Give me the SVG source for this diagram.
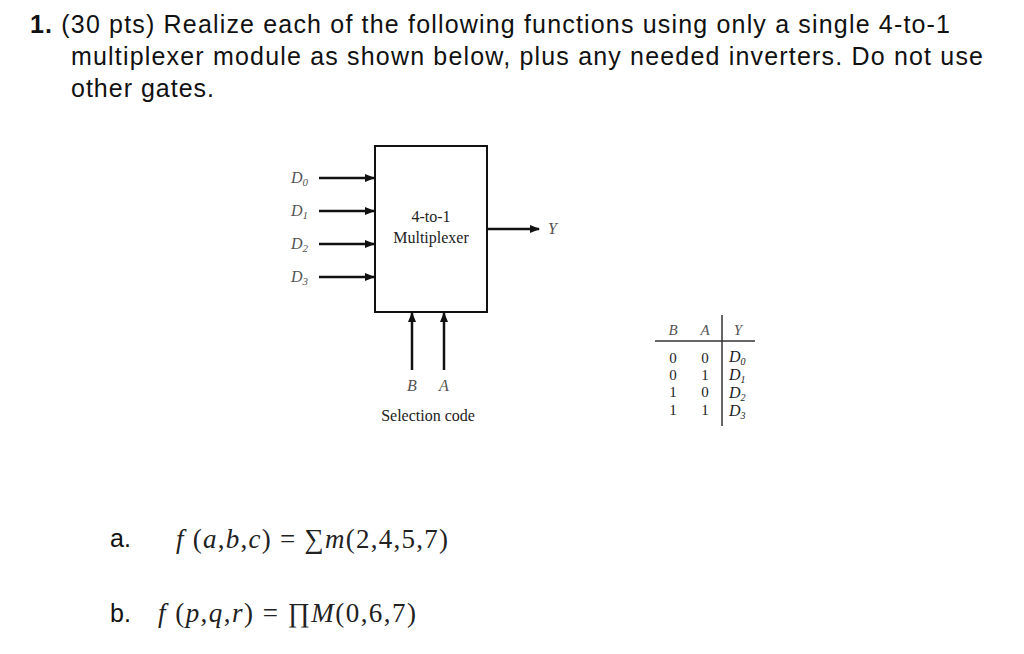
<svg xmlns="http://www.w3.org/2000/svg" width="1024" height="654" viewBox="0 0 1024 654">
<defs><marker id="ah" markerWidth="10" markerHeight="8" refX="9" refY="4" orient="auto" markerUnits="userSpaceOnUse"><path d="M0,0 L10,4 L0,8 z" fill="#111"/></marker></defs>
<style>
.h{font-family:"Liberation Sans",Arial,sans-serif;font-size:25px;fill:#111}
.s{font-family:"Liberation Serif","Times New Roman",serif;fill:#222}
.i{font-style:italic;fill:#555}
.w{stroke:#111;stroke-width:2.5;marker-end:url(#ah)}
</style>
<rect width="1024" height="654" fill="#fff"/>
<text class="h" x="30" y="33" textLength="920" lengthAdjust="spacing"><tspan font-weight="bold">1.</tspan>  (30 pts) Realize each of the following functions using only a single 4-to-1</text>
<text class="h" x="71" y="65" textLength="912" lengthAdjust="spacing">multiplexer module as shown below, plus any needed inverters.  Do not use</text>
<text class="h" x="71" y="97" textLength="143" lengthAdjust="spacing">other gates.</text>
<g id="mux"><rect x="375" y="146" width="112" height="166" fill="none" stroke="#111" stroke-width="2"/>
<text class="s" x="431" y="222" font-size="16" text-anchor="middle">4-to-1</text>
<text class="s" x="431" y="243" font-size="16" text-anchor="middle">Multiplexer</text></g>
<g id="labels" font-size="16">
<text class="s i" x="291" y="183">D<tspan font-size="11" dy="3">0</tspan></text>
<text class="s i" x="291" y="216">D<tspan font-size="11" dy="3">1</tspan></text>
<text class="s i" x="291" y="249">D<tspan font-size="11" dy="3">2</tspan></text>
<text class="s i" x="291" y="282">D<tspan font-size="11" dy="3">3</tspan></text>
<text class="s i" x="548" y="234">Y</text>
<text class="s i" x="407" y="391">B</text>
<text class="s i" x="439" y="391">A</text>
<text class="s" x="428" y="421" font-size="16" text-anchor="middle">Selection code</text></g>
<g id="connectors">
<line class="w" x1="319" y1="178" x2="374" y2="178"/>
<line class="w" x1="319" y1="211" x2="374" y2="211"/>
<line class="w" x1="319" y1="244" x2="374" y2="244"/>
<line class="w" x1="319" y1="277" x2="374" y2="277"/>
<line class="w" x1="488" y1="229" x2="539" y2="229"/>
<line class="w" x1="412" y1="370" x2="412" y2="313"/>
<line class="w" x1="444" y1="370" x2="444" y2="313"/>
</g>
<g id="table" font-size="15">
<line x1="655" y1="341" x2="755" y2="341" stroke="#333" stroke-width="1.5"/>
<line x1="722" y1="315" x2="722" y2="426" stroke="#333" stroke-width="1.5"/>
<text class="s i" x="673" y="335" text-anchor="middle">B</text>
<text class="s i" x="705" y="335" text-anchor="middle">A</text>
<text class="s i" x="738" y="335" text-anchor="middle">Y</text>
<g class="s" text-anchor="middle">
<text x="673" y="363">0</text><text x="705" y="363">0</text>
<text x="673" y="380">0</text><text x="705" y="380">1</text>
<text x="673" y="397">1</text><text x="705" y="397">0</text>
<text x="673" y="415">1</text><text x="705" y="415">1</text></g>
<g class="s" font-style="italic" font-size="16">
<text x="729" y="362">D<tspan font-size="10" dy="3">0</tspan></text>
<text x="729" y="380">D<tspan font-size="10" dy="3">1</tspan></text>
<text x="729" y="398">D<tspan font-size="10" dy="3">2</tspan></text>
<text x="729" y="416">D<tspan font-size="10" dy="3">3</tspan></text></g>
</g>
<text class="h" x="110" y="547">a.</text>
<text class="s" x="176" y="548" font-size="27" fill="#111" textLength="272" lengthAdjust="spacing"><tspan font-style="italic">f</tspan> (<tspan font-style="italic">a</tspan>,<tspan font-style="italic">b</tspan>,<tspan font-style="italic">c</tspan>) = ∑<tspan font-style="italic">m</tspan>(2,4,5,7)</text>
<text class="h" x="110" y="622">b.</text>
<text class="s" x="158" y="622" font-size="27" fill="#111" textLength="258" lengthAdjust="spacing"><tspan font-style="italic">f</tspan> (<tspan font-style="italic">p</tspan>,<tspan font-style="italic">q</tspan>,<tspan font-style="italic">r</tspan>) = ∏<tspan font-style="italic">M</tspan>(0,6,7)</text>
</svg>
